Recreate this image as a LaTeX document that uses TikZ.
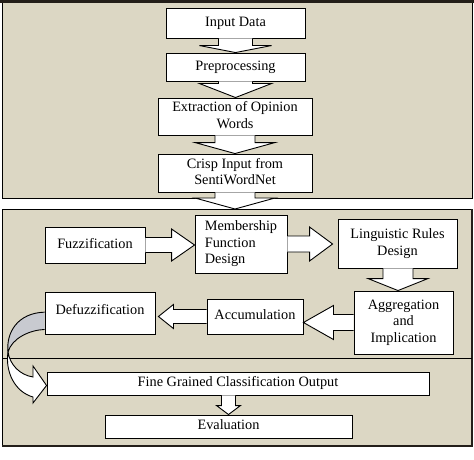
\documentclass[tikz,border=0pt]{standalone}
\usepackage{fontspec}
\setmainfont{Liberation Serif}
\usetikzlibrary{calc}
\definecolor{panelbg}{RGB}{220,215,196}
\definecolor{ribbon}{RGB}{200,202,208}
\definecolor{frame}{RGB}{35,30,25}
\newcommand{\tx}[2]{\raisebox{#1}{\begin{tabular}{@{}c@{}}#2\end{tabular}}}
\newcommand{\txl}[2]{\raisebox{#1}{\begin{tabular}{@{}l@{}}#2\end{tabular}}}
\newcommand{\blockarrow}[5]{%
  \coordinate (ba-h) at ($(#2)!#5!(#1)$);
  \draw[barrow] ($(#1)!#3!90:(#2)$) -- ($(ba-h)!#3!90:(#2)$) -- ($(ba-h)!#4!90:(#2)$) -- (#2)
     -- ($(ba-h)!#4!-90:(#2)$) -- ($(ba-h)!#3!-90:(#2)$) -- ($(#1)!#3!-90:(#2)$);
}
\begin{document}
\begin{tikzpicture}[x=1pt,y=-1pt,
  box/.style={draw=black, fill=white, line width=0.9pt, inner sep=1pt,
     font=\fontsize{14.3}{16.5}\selectfont},
  barrow/.style={draw=black, fill=white, line width=0.9pt, line join=miter}]
\useasboundingbox (0,0) rectangle (474,460);
\fill[white] (0,0) rectangle (474,460);
% panels
\fill[panelbg] (2,3) rectangle (472,198);
\fill[panelbg] (2,209) rectangle (472,446);
\fill[frame] (0,0) rectangle (474,3.5);
\draw[line width=1pt] (2,3) -- (2,198) -- (472,198) -- (472,3);
\draw[line width=1pt] (2,209) rectangle (472,446);
\draw[line width=2pt, frame] (2,446) -- (472,446) -- (472,209);
\draw[line width=1pt] (2,358) -- (472,358);
\coordinate (p2n) at (0,209);
% nodes
\node[box, minimum width=139pt, minimum height=30pt] (in) at (235.5,23) {\tx{0pt}{Input Data}};
\node[box, minimum width=139pt, minimum height=28pt] (pre) at (235.5,67) {\tx{0pt}{Preprocessing}};
\node[box, minimum width=154pt, minimum height=37pt] (ext) at (235,116.5) {\tx{-3.5pt}{Extraction of Opinion\\Words}};
\node[box, minimum width=154pt, minimum height=38pt] (crisp) at (235,173) {\tx{-3pt}{Crisp Input from\\SentiWordNet}};
\node[box, minimum width=100pt, minimum height=36pt] (fuzz) at (95,245) {\tx{3pt}{Fuzzification}};
\node[box, minimum width=92pt, minimum height=58pt] (mem) at (241,244) {\txl{-2pt}{Membership\\Function\\Design}};
\node[box, minimum width=119pt, minimum height=49pt] (ling) at (397.5,243.5) {\tx{3.5pt}{Linguistic Rules\\Design}};
\node[box, minimum width=99pt, minimum height=63pt] (agg) at (403.5,322.5) {\tx{2pt}{Aggregation\\and\\Implication}};
\node[box, minimum width=96pt, minimum height=35pt] (acc) at (255,316.5) {\tx{2.5pt}{Accumulation}};
\node[box, minimum width=110pt, minimum height=42pt] (defuzz) at (100,313) {\tx{8pt}{Defuzzification}};
\node[box, minimum width=382pt, minimum height=23pt] (fine) at (238,383.5) {\tx{0pt}{Fine Grained Classification Output}};
\node[box, minimum width=247pt, minimum height=23pt] (eval) at (228.5,426.5) {\tx{-2.5pt}{Evaluation}};
% block arrows
\blockarrow{in.south}{pre.north}{17pt}{36pt}{7pt}
\coordinate (t2) at (pre.south |- ext.north);
\blockarrow{pre.south}{t2}{17pt}{36pt}{14pt}
\blockarrow{ext.south}{crisp.north}{20pt}{40pt}{11pt}
\coordinate (t4) at (crisp.south |- p2n);
\blockarrow{crisp.south}{t4}{20pt}{40pt}{11pt}
\coordinate (t5) at (fuzz.east -| mem.west);
\blockarrow{fuzz.east}{t5}{7.5pt}{16pt}{23pt}
\coordinate (t6) at ($(mem.east -| ling.west)+(-5,0)$);
\blockarrow{mem.east}{t6}{8pt}{17pt}{23pt}
\coordinate (s7) at ($(ling.south)+(0.5,0)$);
\coordinate (t7) at (s7 |- agg.north);
\blockarrow{s7}{t7}{15pt}{30pt}{12pt}
\coordinate (t8) at (agg.west -| acc.east);
\blockarrow{agg.west}{t8}{8pt}{17pt}{30pt}
\coordinate (t9) at ($(acc.west -| defuzz.east)+(3,0)$);
\blockarrow{acc.west}{t9}{7pt}{12pt}{15pt}
\coordinate (s10) at (eval.north |- fine.south);
\blockarrow{s10}{eval.north}{7pt}{12pt}{9pt}
% curved arrow from Defuzzification to Fine Grained output
\coordinate (co) at ($(defuzz.north west)!0.48!(defuzz.south west)$);
\coordinate (ci) at ($(defuzz.south west)+(0,-5)$);
\coordinate (cw) at (8,352);
\coordinate (ctip) at ($(fine.west)+(0,2)$);
\filldraw[fill=ribbon, line width=0.9pt] (co) .. controls (18,313) and (6,332) .. (cw)
   .. controls (12,338) and (30,330) .. (ci);
\filldraw[fill=white, line width=0.9pt, line join=miter] (cw) .. controls (10,365) and (20,375) .. (33,377)
   -- (33,366) -- (ctip) -- (33,403) -- (33,397) .. controls (15,392) and (5,372) .. (cw) -- cycle;
\end{tikzpicture}
\end{document}
